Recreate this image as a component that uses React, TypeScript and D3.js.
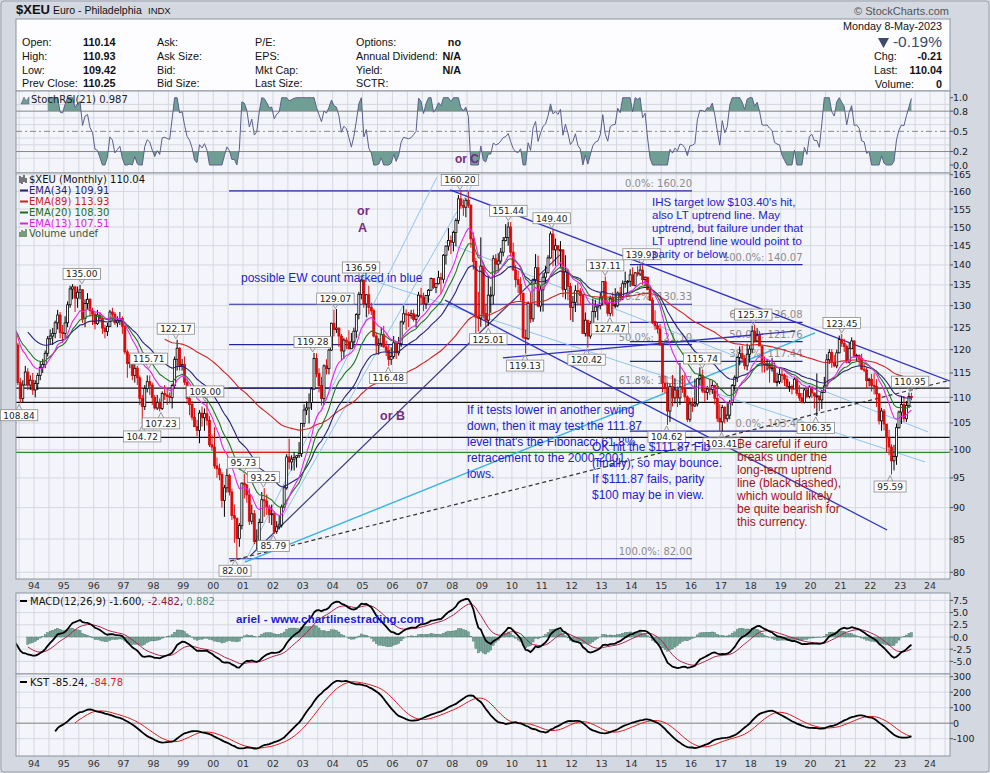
import React from 'react';
import * as d3 from 'd3';

// monthly $XEU bars, Jan 1991 .. May 2023 (open = previous close)
const START_YEAR = 1991;
const closes: number[] = [
  /* 1991 */ 137.0, 130.5, 121.5, 120.0, 117.0, 115.2, 118.0, 119.3, 124.0, 124.2, 130.0, 134.0,
  /* 1992 */ 127.0, 125.0, 124.0, 126.0, 128.0, 134.0, 139.0, 142.0, 137.0, 128.0, 124.0, 121.0,
  /* 1993 */ 120.0, 118.0, 120.0, 124.0, 121.0, 113.0, 109.8, 112.5, 115.2, 112.5, 113.5, 111.5,
  /* 1994 */ 112.8, 114.5, 116.2, 116.8, 119.2, 122.4, 123.0, 123.6, 126.0, 127.8, 123.8, 123.6,
  /* 1995 */ 126.0, 130.2, 134.0, 134.5, 131.8, 133.2, 133.8, 127.0, 130.5, 131.5, 128.8, 128.0,
  /* 1996 */ 125.8, 127.8, 126.9, 124.8, 124.0, 125.2, 128.5, 128.0, 126.0, 126.5, 127.0, 125.2,
  /* 1997 */ 119.5, 117.0, 117.2, 114.5, 116.0, 114.0, 109.8, 108.2, 111.8, 113.2, 112.5, 110.0,
  /* 1998 */ 107.9, 109.0, 107.8, 110.8, 110.5, 110.2, 110.0, 112.4, 117.9, 120.3, 116.5, 116.8,
  /* 1999 */ 113.1, 109.8, 108.6, 106.1, 104.3, 103.6, 106.9, 106.0, 106.8, 105.5, 100.9, 100.5,
  /* 2000 */ 97.1, 96.6, 95.6, 91.2, 93.3, 95.4, 92.6, 88.7, 88.3, 85.1, 87.1, 94.1,
  /* 2001 */ 93.8, 92.1, 87.8, 89.0, 84.6, 84.8, 87.6, 91.3, 91.1, 90.1, 88.9, 89.0,
  /* 2002 */ 86.2, 86.9, 87.2, 90.1, 93.3, 98.7, 97.8, 98.3, 98.6, 98.9, 99.3, 104.9,
  /* 2003 */ 107.5, 107.9, 109.0, 111.7, 118.1, 114.9, 112.4, 109.8, 116.5, 115.9, 119.9, 125.9,
  /* 2004 */ 124.5, 124.8, 123.0, 119.7, 122.1, 121.7, 120.2, 121.7, 124.1, 127.9, 132.7, 136.2,
  /* 2005 */ 130.4, 132.6, 129.6, 128.8, 123.0, 121.0, 121.3, 123.3, 120.6, 119.8, 117.9, 118.5,
  /* 2006 */ 121.5, 119.3, 121.3, 126.2, 128.1, 127.9, 127.7, 128.1, 126.8, 127.6, 132.5, 132.0,
  /* 2007 */ 130.4, 132.4, 133.7, 136.6, 134.4, 135.3, 136.8, 136.4, 142.5, 144.9, 146.4, 145.9,
  /* 2008 */ 148.5, 151.8, 157.9, 156.0, 155.5, 157.5, 156.1, 146.8, 140.9, 127.3, 127.1, 139.7,
  /* 2009 */ 128.1, 126.6, 132.5, 132.5, 141.6, 140.2, 141.0, 143.3, 146.4, 147.2, 150.0, 143.3,
  /* 2010 */ 138.7, 136.3, 135.1, 133.0, 122.7, 122.4, 130.5, 126.9, 136.3, 139.3, 129.9, 133.8,
  /* 2011 */ 136.9, 138.0, 141.8, 148.1, 143.9, 145.0, 143.9, 143.9, 133.9, 138.3, 134.6, 129.6,
  /* 2012 */ 130.8, 133.6, 133.5, 132.4, 123.6, 126.6, 123.0, 125.8, 128.6, 129.7, 130.0, 131.9,
  /* 2013 */ 135.8, 130.6, 128.2, 131.7, 130.0, 130.1, 133.0, 132.2, 135.3, 135.8, 135.9, 137.5,
  /* 2014 */ 134.9, 138.0, 137.7, 138.7, 136.3, 136.9, 133.9, 131.3, 126.3, 125.3, 124.6, 121.0,
  /* 2015 */ 112.9, 111.9, 107.3, 112.2, 109.9, 111.5, 109.9, 112.1, 111.7, 110.1, 105.7, 108.7,
  /* 2016 */ 108.3, 108.7, 113.8, 114.5, 111.3, 111.0, 111.7, 111.6, 112.4, 109.8, 105.9, 105.2,
  /* 2017 */ 108.0, 105.8, 106.5, 109.0, 112.4, 114.1, 118.3, 119.1, 118.1, 116.5, 119.0, 120.1,
  /* 2018 */ 124.1, 121.9, 123.2, 120.8, 116.9, 116.8, 116.9, 116.0, 116.1, 113.1, 113.2, 114.7,
  /* 2019 */ 114.5, 113.7, 112.2, 112.2, 111.7, 113.7, 110.8, 109.9, 109.0, 111.5, 110.2, 112.1,
  /* 2020 */ 110.9, 110.3, 110.3, 109.5, 111.0, 112.3, 117.8, 119.4, 117.2, 116.5, 119.3, 122.2,
  /* 2021 */ 121.4, 120.7, 117.3, 120.2, 121.9, 118.6, 118.7, 118.1, 115.8, 115.6, 113.4, 113.7,
  /* 2022 */ 112.4, 112.2, 110.7, 105.4, 107.3, 104.8, 102.2, 100.5, 98.0, 98.8, 104.1, 107.1,
  /* 2023 */ 108.6, 105.8, 108.4, 110.2, 110.04,
];
const highs: number[] = [
  /* 1991 */ 139, 138, 131, 122.5, 121, 118, 119, 121, 125, 126, 131, 135,
  /* 1992 */ 135, 129, 127, 127, 129, 134.5, 140, 145, 146, 138, 129, 125,
  /* 1993 */ 122, 121, 121, 125, 124.5, 121.5, 114, 113.5, 116.5, 116, 114.5, 115,
  /* 1994 */ 113.5, 115, 117.5, 118, 119.8, 123, 124.5, 124.8, 126.5, 129, 128.5, 125.5,
  /* 1995 */ 127.5, 131, 134.8, 135.2, 134.8, 134.6, 135.0, 134, 131.5, 133, 131.8, 129.5,
  /* 1996 */ 128.5, 129, 128.5, 127.5, 125.5, 126, 129, 129.5, 128.5, 127.5, 128.5, 127.5,
  /* 1997 */ 125.5, 120, 119, 117.5, 117.5, 116.5, 114.5, 110.5, 112.5, 114.5, 114.5, 113,
  /* 1998 */ 110.5, 110.5, 109.8, 111.2, 112.5, 111.5, 111, 112.8, 118.5, 122.17, 120.5, 118,
  /* 1999 */ 118.5, 113.8, 110.5, 109.3, 107.9, 105.6, 107.5, 108.2, 107.8, 109.0, 106.3, 102.8,
  /* 2000 */ 104.2, 98.6, 97.5, 96.0, 93.8, 96.6, 95.7, 93.2, 90.5, 87.9, 87.5, 94.2,
  /* 2001 */ 95.73, 94.0, 93.2, 90.5, 89.6, 86.5, 88.2, 92.6, 93.25, 92.2, 90.5, 90.5,
  /* 2002 */ 89.4, 87.8, 88.7, 90.5, 93.8, 99.2, 102.0, 99.0, 99.6, 99.0, 101.4, 105.0,
  /* 2003 */ 108.6, 109.2, 110.8, 112.1, 119.28, 119.2, 116.0, 114.2, 116.8, 117.9, 120.2, 126.0,
  /* 2004 */ 129.07, 129.2, 124.9, 123.5, 122.6, 122.7, 124.3, 123.7, 124.9, 128.2, 133.3, 136.59,
  /* 2005 */ 136.3, 132.8, 134.8, 130.7, 129.3, 123.7, 122.5, 125.0, 125.3, 122.0, 121.0, 120.5,
  /* 2006 */ 123.0, 121.5, 122.8, 126.5, 130.0, 129.1, 128.5, 129.0, 129.1, 128.0, 133.3, 134.3,
  /* 2007 */ 133.1, 132.5, 134.0, 136.8, 136.2, 135.4, 138.5, 138.0, 142.8, 145.0, 149.7, 147.7,
  /* 2008 */ 149.0, 152.4, 159.0, 160.2, 157.7, 158.1, 160.1, 156.3, 148.5, 141.8, 133.3, 147.2,
  /* 2009 */ 140.6, 130.2, 137.4, 134.6, 142.5, 142.8, 143.0, 144.4, 147.3, 150.8, 151.44, 151.4,
  /* 2010 */ 145.8, 140.0, 138.5, 136.9, 133.0, 124.5, 131.0, 133.3, 136.6, 142.8, 142.4, 134.7,
  /* 2011 */ 138.0, 139.8, 142.5, 148.8, 149.40, 146.9, 145.0, 146.2, 144.0, 142.5, 139.0, 135.5,
  /* 2012 */ 132.3, 134.9, 135.5, 134.2, 132.8, 128.4, 124.4, 126.4, 131.7, 131.4, 130.1, 133.1,
  /* 2013 */ 135.9, 137.11, 131.3, 132.4, 133.2, 134.2, 133.4, 134.5, 136.1, 138.3, 136.2, 138.9,
  /* 2014 */ 139.4, 138.2, 139.7, 139.9, 139.93, 137.1, 137.0, 134.4, 132.0, 128.9, 126.1, 125.7,
  /* 2015 */ 121.0, 114.5, 113.0, 112.9, 114.6, 113.9, 112.2, 117.1, 114.6, 114.95, 110.4, 109.9,
  /* 2016 */ 110.0, 113.8, 113.9, 116.2, 115.74, 114.2, 112.3, 113.7, 113.3, 112.6, 112.9, 108.7,
  /* 2017 */ 108.5, 108.3, 109.1, 109.5, 112.7, 114.5, 118.5, 120.7, 120.9, 118.8, 121.3, 120.9,
  /* 2018 */ 125.37, 125.6, 124.8, 124.1, 120.0, 118.5, 117.9, 117.3, 118.2, 117.2, 115.0, 116.0,
  /* 2019 */ 115.7, 114.9, 114.5, 113.2, 112.6, 114.1, 114.1, 112.5, 110.9, 111.8, 111.8, 112.4,
  /* 2020 */ 112.0, 110.6, 114.9, 110.2, 111.5, 114.2, 119.0, 120.1, 120.1, 118.8, 120.0, 123.1,
  /* 2021 */ 123.45, 122.4, 121.1, 121.5, 122.7, 122.1, 119.1, 119.0, 119.1, 117.0, 116.1, 114.0,
  /* 2022 */ 114.8, 114.95, 113.7, 110.8, 107.9, 107.7, 103.7, 103.7, 101.0, 100.9, 104.9, 107.4,
  /* 2023 */ 110.3, 110.3, 109.3, 110.95, 110.93,
];
const lows: number[] = [
  /* 1991 */ 134, 129, 120, 117, 115.5, 112.5, 113, 116.5, 118.5, 121, 124, 128,
  /* 1992 */ 126, 122, 122, 123, 125, 127, 133, 138, 133, 127, 122, 119,
  /* 1993 */ 117.5, 116, 116.5, 119, 119.5, 112.5, 108.84, 108.9, 112.5, 111.5, 111.5, 110.5,
  /* 1994 */ 110, 111.5, 113.5, 115, 116, 118.5, 121, 121, 122.5, 124.5, 122.5, 121.5,
  /* 1995 */ 122.5, 125, 129.5, 131.5, 128.5, 129.5, 131.5, 126, 125, 129, 127.5, 125.5,
  /* 1996 */ 124.5, 125.5, 126, 123.5, 122.5, 123, 125, 126.5, 125.5, 125, 125.5, 123.5,
  /* 1997 */ 119, 114, 116, 113.5, 113, 112.5, 108.5, 104.72, 107.5, 111, 110.5, 108.5,
  /* 1998 */ 107.6, 107.5, 107.23, 107.5, 109.5, 108.5, 108.8, 107.8, 111.8, 115.5, 115.5, 115.5,
  /* 1999 */ 112.5, 108.8, 106.5, 105.5, 104.2, 102.5, 101.2, 104.3, 103.5, 104.5, 100.5, 99.8,
  /* 2000 */ 96.6, 95.0, 94.6, 90.0, 88.5, 92.5, 92.0, 88.0, 84.4, 82.0, 83.8, 86.5,
  /* 2001 */ 91.5, 90.8, 87.2, 87.3, 84.2, 83.44, 83.6, 87.6, 88.5, 88.8, 87.5, 87.2,
  /* 2002 */ 85.79, 85.8, 86.5, 86.8, 89.9, 93.0, 96.5, 96.3, 96.3, 96.8, 98.5, 98.7,
  /* 2003 */ 104.2, 106.5, 104.9, 107.5, 111.5, 114.1, 111.0, 108.4, 108.5, 114.7, 114.7, 119.7,
  /* 2004 */ 122.9, 123.7, 120.6, 117.6, 118.0, 120.1, 120.0, 120.2, 120.4, 122.6, 126.8, 131.5,
  /* 2005 */ 129.5, 127.3, 128.0, 127.8, 122.7, 119.0, 118.9, 120.6, 120.4, 118.6, 116.48, 116.7,
  /* 2006 */ 118.0, 118.0, 118.7, 120.6, 125.6, 124.4, 125.0, 126.9, 126.3, 124.9, 127.3, 130.3,
  /* 2007 */ 128.7, 129.2, 130.7, 133.5, 134.0, 133.0, 135.1, 132.8, 135.4, 140.1, 143.7, 142.8,
  /* 2008 */ 143.5, 144.9, 150.9, 155.1, 153.1, 152.7, 155.3, 144.5, 138.8, 123.3, 124.0, 125.1,
  /* 2009 */ 127.0, 125.01, 125.3, 128.3, 130.3, 137.7, 138.1, 140.3, 142.2, 146.1, 145.0, 142.2,
  /* 2010 */ 138.6, 134.4, 133.0, 131.2, 122.3, 119.13, 122.1, 126.0, 126.2, 135.2, 129.6, 128.6,
  /* 2011 */ 128.6, 135.2, 138.0, 141.6, 139.6, 139.8, 140.3, 139.1, 132.0, 131.5, 131.3, 126.6,
  /* 2012 */ 126.2, 128.5, 130.0, 130.0, 123.5, 122.9, 120.42, 122.4, 125.7, 127.2, 126.6, 129.1,
  /* 2013 */ 130.0, 130.2, 127.5, 127.47, 127.5, 129.4, 129.6, 131.3, 131.3, 134.3, 132.9, 134.5,
  /* 2014 */ 134.8, 134.6, 137.1, 137.2, 135.0, 135.0, 133.7, 131.1, 125.7, 124.4, 123.6, 120.9,
  /* 2015 */ 111.0, 110.9, 104.62, 105.2, 108.2, 108.8, 108.1, 108.5, 110.9, 108.9, 105.2, 105.2,
  /* 2016 */ 107.1, 108.1, 108.2, 112.5, 110.9, 109.1, 109.5, 110.5, 110.7, 108.6, 105.2, 103.5,
  /* 2017 */ 103.41, 104.9, 105.2, 105.7, 108.4, 111.2, 113.1, 116.6, 117.2, 115.7, 115.5, 117.2,
  /* 2018 */ 119.2, 121.5, 122.2, 120.9, 115.1, 115.1, 115.5, 113.0, 115.3, 113.0, 112.2, 112.7,
  /* 2019 */ 112.9, 112.3, 111.8, 111.1, 110.6, 111.8, 110.3, 109.3, 108.8, 108.8, 109.8, 109.8,
  /* 2020 */ 109.9, 107.8, 106.35, 107.3, 107.7, 111.7, 112.3, 116.9, 116.1, 116.2, 116.0, 119.2,
  /* 2021 */ 120.6, 119.5, 117.0, 117.0, 120.5, 118.4, 117.5, 116.6, 115.6, 115.2, 111.9, 112.2,
  /* 2022 */ 111.2, 110.6, 108.1, 104.7, 103.5, 103.6, 99.5, 99.0, 95.59, 96.3, 97.3, 103.9,
  /* 2023 */ 104.8, 105.2, 105.2, 107.9, 109.42,
];
const FIRST_OPEN = 136.0;

const horizontalBlack = [111.87, 109.0, 102.29];
const horizontalGreen = [99.53];
const redSegment = { t1: 2000.0, t2: 2002.57, p: 99.53 };

const fibA = { t1: 2000.53, t2: 2016.03, levels: [160.2, 130.33, 121.1, 111.87, 82.0],
  names: ['0.0%: 160.20', '38.2%: 130.33', '50.0%: 121.10', '61.8%: 111.87', '100.0%: 82.00'] };
const fibB = { t1: 2013.95, t2: 2019.73, levels: [140.07, 126.08, 121.76, 117.44, 103.46],
  names: ['100.0%: 140.07', '61.8%: 126.08', '50.0%: 121.76', '38.2%: 117.44', '0.0%: 103.46'] };

// trendlines as [t1, p1, t2, p2]
const darkBlueLines = [
  [2007.93, 160.5, 2024.67, 113.3],
  [2007.76, 131.3, 2022.56, 86.4],
  [2009.70, 118.2, 2019.48, 124.1],
];
const lightBlueLines = [
  [2005.01, 136.9, 2023.83, 97.8],
  [2001.06, 81.5, 2007.49, 164.3],
  [2001.63, 82.85, 2008.86, 164.9],
  [2007.76, 145.97, 2023.93, 103.3],
];
const cyanLines = [[2001.06, 81.5, 2020.15, 123.7]];
const navyLines = [[2001.23, 82.4, 2011.61, 142.6]];
const dashedLines = [[2000.56, 81.65, 2024.67, 113.5]];

const priceLabels: [number, number, boolean][] = [
  [1993.5, 108.84, false], [1995.6, 135.0, true], [1998.75, 122.17, true], [1997.84, 115.71, true],
  [1999.73, 109.0, true], [1997.62, 104.72, false], [1998.25, 107.23, false], [2001.01, 95.73, true],
  [2001.68, 93.25, true], [2002.01, 85.79, false], [2000.73, 82.0, false], [2003.33, 119.28, true],
  [2004.09, 129.07, true], [2004.95, 136.59, true], [2005.86, 116.48, false], [2008.26, 160.2, true],
  [2009.88, 151.44, true], [2011.33, 149.4, true], [2009.21, 125.01, false], [2010.44, 119.13, false],
  [2012.5, 120.42, false], [2013.12, 137.11, true], [2013.28, 127.47, false], [2014.34, 139.93, true],
  [2015.18, 104.62, false], [2016.37, 115.74, true], [2017.02, 103.41, false], [2018.08, 125.37, true],
  [2021.04, 123.45, true], [2020.17, 106.35, false], [2023.33, 110.95, true], [2022.66, 95.59, false],
];

const yearLabels = d3.range(1994, 2025).map(y => String(y % 100).padStart(2, '0'));
const mainTicks = d3.range(80, 166, 5);
const stochTicks = [1.0, 0.8, 0.5, 0.2, 0.0];
const macdTicks = [7.5, 5.0, 2.5, 0.0, -2.5, -5.0];
const kstTicks = [300, 200, 100, 0, -100];

const ihsText = ["IHS target low $103.40's hit,", 'also LT uptrend line. May', 'uptrend, but failure under that',
  'LT uptrend line would point to', 'parity or below.'];
const swingText = ['If it tests lower in another swing', 'down, then it may test the 111.87',
  "level that's the Fibonacci 61.8%", 'retracement to the 2000-2001', 'lows.'];
const okText = ['OK hit the $111.87 Fib', '(finally), so may bounce.', 'If $111.87 fails, parity', '$100 may be in view.'];
const redText = ['Be careful if euro', 'breaks under the', 'long-term uptrend', 'line (black dashed),',
  'which would likely', 'be quite bearish for', 'this currency.'];

// ---------- indicator helpers ----------
type S = (number | null)[];
function sma(v: S, n: number): S {
  const out: S = v.map(() => null);
  for (let i = 0; i < v.length; i++) {
    let s = 0, ok = true;
    for (let j = i - n + 1; j <= i; j++) { if (j < 0 || v[j] == null) { ok = false; break; } s += v[j] as number; }
    if (ok) out[i] = s / n;
  }
  return out;
}
function ema(v: S, n: number): S {
  const out: S = v.map(() => null);
  const k = 2 / (n + 1);
  const start = v.findIndex(d => d != null);
  if (start < 0 || start + n > v.length) return out;
  let s = 0;
  for (let j = start; j < start + n; j++) s += v[j] as number;
  out[start + n - 1] = s / n;
  for (let i = start + n; i < v.length; i++) out[i] = (v[i] as number) * k + (out[i - 1] as number) * (1 - k);
  return out;
}
function rsi(c: number[], n: number): S {
  const out: S = c.map(() => null);
  let g = 0, l = 0;
  for (let i = 1; i <= n; i++) { const d = c[i] - c[i - 1]; if (d > 0) g += d; else l -= d; }
  g /= n; l /= n;
  out[n] = 100 - 100 / (1 + g / (l || 1e-9));
  for (let i = n + 1; i < c.length; i++) {
    const d = c[i] - c[i - 1];
    g = (g * (n - 1) + Math.max(d, 0)) / n;
    l = (l * (n - 1) + Math.max(-d, 0)) / n;
    out[i] = 100 - 100 / (1 + g / (l || 1e-9));
  }
  return out;
}
function stochOf(v: S, n: number): S {
  return v.map((d, i) => {
    if (d == null || i - n + 1 < 0) return null;
    const w = v.slice(i - n + 1, i + 1);
    if (w.some(e => e == null)) return null;
    const mn = d3.min(w as number[])!, mx = d3.max(w as number[])!;
    return mx === mn ? 0.5 : (d - mn) / (mx - mn);
  });
}
const roc = (c: number[], n: number): S => c.map((d, i) => (i >= n ? (d / c[i - n] - 1) * 100 : null));

const tOf = (i: number) => START_YEAR + i / 12 + 1 / 24;
const opens = closes.map((_, i) => (i === 0 ? FIRST_OPEN : closes[i - 1]));

const ema34 = ema(closes, 34), ema89 = ema(closes, 89), ema20 = ema(closes, 20), ema13 = ema(closes, 13);
const stochRsi = stochOf(rsi(closes, 21), 21);
const ema12c = ema(closes, 12), ema26c = ema(closes, 26);
const macdLine: S = ema12c.map((a, i) => {
  const b = ema26c[i];
  return a != null && b != null ? a - b : null;
});
const macdSignal = ema(macdLine, 9);
const macdHist: S = macdLine.map((m, i) => (m != null && macdSignal[i] != null ? m - (macdSignal[i] as number) : null));
const r1 = sma(roc(closes, 10), 10), r2 = sma(roc(closes, 15), 10), r3 = sma(roc(closes, 20), 10), r4 = sma(roc(closes, 30), 15);
const kst: S = closes.map((_, i) =>
  r1[i] != null && r2[i] != null && r3[i] != null && r4[i] != null
    ? (r1[i] as number) + 2 * (r2[i] as number) + 3 * (r3[i] as number) + 4 * (r4[i] as number) : null);
const kstSignal = sma(kst, 9);

// ---------- layout ----------
const L = 16, R = 950;
const P_STOCH = { top: 91, bottom: 173 };
const P_MAIN = { top: 173, bottom: 579 };
const P_MACD = { top: 593, bottom: 674 };
const P_KST = { top: 674, bottom: 756 };

const x = d3.scaleLinear().domain([1994, 2024]).range([34, 930.1]);
const yMain = d3.scaleLog().domain([80, 165]).range([572.3, 174.7]);
const yStoch = d3.scaleLinear().domain([0, 1]).range([165, 97.7]);
const yMacd = d3.scaleLinear().domain([-5, 7.5]).range([661.4, 600.4]);
const yKst = d3.scaleLinear().domain([-100, 300]).range([738.7, 676.7]);

const GRID = '#d5d8e0';
const BG = '#f4f5fa';
const AX = "'DejaVu Sans', Verdana, sans-serif";
const AR = "'Liberation Sans', Arial, sans-serif";

function seriesPath(v: S, y: (n: number) => number) {
  const pts = v.map((d, i) => [tOf(i), d] as [number, number | null]);
  return d3.line<[number, number | null]>()
    .defined(d => d[1] != null)
    .x(d => x(d[0]))
    .y(d => y(d[1] as number))(pts) || '';
}

function Panel({ top, bottom, hTicks, y }: { top: number; bottom: number; hTicks: number[]; y: (n: number) => number }) {
  const halfYears = d3.range(1993.5, 2025, 0.5).filter(t => x(t) > L && x(t) < R);
  return (
    <g>
      <rect x={L} y={top} width={R - L} height={bottom - top} fill={BG} />
      {halfYears.map(t => <line key={t} x1={x(t)} x2={x(t)} y1={top} y2={bottom} stroke={GRID} strokeWidth={1} />)}
      {hTicks.map(v => <line key={v} x1={L} x2={R} y1={y(v)} y2={y(v)} stroke={GRID} strokeWidth={1} />)}
    </g>
  );
}

function RightAxis({ ticks, y, fmt }: { ticks: number[]; y: (n: number) => number; fmt: (n: number) => string }) {
  return (
    <g fontFamily={AX} fontSize={9.5} fill="#222">
      {ticks.map(v => (
        <g key={v}>
          <line x1={R} x2={R + 3} y1={y(v)} y2={y(v)} stroke="#555" />
          <text x={R + 3} y={y(v) + 3.5}>{fmt(v)}</text>
        </g>
      ))}
    </g>
  );
}

function XLabels({ yPos }: { yPos: number }) {
  return (
    <g fontFamily={AX} fontSize={9.5} fill="#333" textAnchor="middle">
      {yearLabels.map((lab, i) => <text key={lab + i} x={x(1994 + i)} y={yPos}>{lab}</text>)}
    </g>
  );
}

function Trend({ lines, color, width, dash }: { lines: number[][]; color: string; width: number; dash?: string }) {
  return (
    <g>
      {lines.map((l, i) => (
        <line key={i} x1={x(l[0])} y1={yMain(l[1])} x2={x(l[2])} y2={yMain(l[3])}
          stroke={color} strokeWidth={width} strokeDasharray={dash} />
      ))}
    </g>
  );
}

function PriceLabel({ t, v, up }: { t: number; v: number; up: boolean }) {
  const cx = x(t);
  const ay = yMain(v);
  const text = v.toFixed(2);
  const w = text.length * 5.4 + 5;
  const cy = up ? ay - 11 : ay + 12;
  const edge = up ? cy + 5 : cy - 5;
  return (
    <g>
      <line x1={cx - 3} y1={edge} x2={cx} y2={up ? ay - 1 : ay + 1} stroke="#999" />
      <line x1={cx + 3} y1={edge} x2={cx} y2={up ? ay - 1 : ay + 1} stroke="#999" />
      <rect x={cx - w / 2} y={cy - 5.5} width={w} height={11} fill="#fff" stroke="#8a8a8a" strokeWidth={0.8} />
      <text x={cx} y={cy + 3.5} textAnchor="middle" fontFamily={AX} fontSize={9} fill="#222">{text}</text>
    </g>
  );
}

export default function App() {
  const visible = closes.map((c, i) => i).filter(i => x(tOf(i)) > L - 2 && x(tOf(i)) < R);
  const s08 = yStoch(0.8), s02 = yStoch(0.2);
  const stochArea = (base: number) => {
    const pts = stochRsi.map((d, i) => [tOf(i), d] as [number, number | null]);
    return d3.area<[number, number | null]>()
      .defined(d => d[1] != null)
      .x(d => x(d[0])).y0(base).y1(d => yStoch(d[1] as number))(pts) || '';
  };
  const lineStyle = { fill: 'none' };

  return (
    <svg width={990} height={773} style={{ position: 'absolute', left: 0, top: 0, background: '#d3d8e1' }}
      fontFamily={AR}>
      <defs>
        <clipPath id="clipMain"><rect x={L} y={P_MAIN.top} width={R - L} height={P_MAIN.bottom - P_MAIN.top} /></clipPath>
        <clipPath id="clipStoch"><rect x={L} y={P_STOCH.top} width={R - L} height={P_STOCH.bottom - P_STOCH.top} /></clipPath>
        <clipPath id="clipMacd"><rect x={L} y={P_MACD.top} width={R - L} height={P_MACD.bottom - P_MACD.top} /></clipPath>
        <clipPath id="clipKst"><rect x={L} y={P_KST.top} width={R - L} height={P_KST.bottom - P_KST.top} /></clipPath>
        <clipPath id="aboveHi"><rect x={L} y={P_STOCH.top} width={R - L} height={s08 - P_STOCH.top} /></clipPath>
        <clipPath id="belowLo"><rect x={L} y={s02} width={R - L} height={P_STOCH.bottom - s02} /></clipPath>
      </defs>
      <rect x={1} y={1} width={988} height={771} fill="#d3d8e1" stroke="#9aa1ad" rx={3} />

      {/* title + info box */}
      <text x={16} y={14} fontSize={13} fontWeight="bold" fill="#111">$XEU</text>
      <text x={53} y={14} fontSize={10.5} fill="#111">Euro - Philadelphia</text>
      <text x={148} y={14} fontSize={9.5} fill="#111">INDX</text>
      <text x={949} y={15} fontSize={11} fill="#555" textAnchor="end">© StockCharts.com</text>
      <rect x={L} y={19} width={R - L} height={72} fill="#fdfdff" stroke="#8b93a0" />
      <g fontSize={10.8} fill="#111">
        {[['Open:', '110.14'], ['High:', '110.93'], ['Low:', '109.42'], ['Prev Close:', '110.25']].map((r, i) => (
          <g key={r[0]}>
            <text x={22} y={46 + i * 13.8}>{r[0]}</text>
            <text x={83} y={46 + i * 13.8} fontWeight="bold">{r[1]}</text>
          </g>
        ))}
        {['Ask:', 'Ask Size:', 'Bid:', 'Bid Size:'].map((s, i) => <text key={s} x={157} y={46 + i * 13.8}>{s}</text>)}
        {['P/E:', 'EPS:', 'Mkt Cap:', 'Last Size:'].map((s, i) => <text key={s} x={255} y={46 + i * 13.8}>{s}</text>)}
        {['Options:', 'Annual Dividend:', 'Yield:', 'SCTR:'].map((s, i) => <text key={s} x={356} y={46 + i * 13.8}>{s}</text>)}
        {['no', 'N/A', 'N/A'].map((s, i) => <text key={i} x={461} y={46 + i * 13.8} fontWeight="bold" textAnchor="end">{s}</text>)}
        <text x={942} y={30} textAnchor="end">Monday  8-May-2023</text>
        <path d="M878,38 L889,38 L883.5,48 Z" fill="#3c4a6e" />
        <text x={942} y={47} textAnchor="end" fontSize={15.5} fill="#3c4a6e">-0.19%</text>
        <text x={874} y={60}>Chg:</text>
        <text x={942} y={60} textAnchor="end" fontWeight="bold">-0.21</text>
        <text x={874} y={74}>Last:</text>
        <text x={942} y={74} textAnchor="end" fontWeight="bold">110.04</text>
        <text x={875} y={88}>Volume:</text>
        <text x={942} y={88} textAnchor="end" fontWeight="bold">0</text>
      </g>

      {/* StochRSI */}
      <Panel top={P_STOCH.top} bottom={P_STOCH.bottom} hTicks={[0.1, 0.3, 0.4, 0.6, 0.7, 0.9]} y={yStoch} />
      <g clipPath="url(#clipStoch)">
        <path d={stochArea(s08)} fill="#6f9f94" clipPath="url(#aboveHi)" />
        <path d={stochArea(s02)} fill="#6f9f94" clipPath="url(#belowLo)" />
        <line x1={L} x2={R} y1={s08} y2={s08} stroke="#888" />
        <line x1={L} x2={R} y1={s02} y2={s02} stroke="#888" />
        <line x1={L} x2={R} y1={yStoch(0.5)} y2={yStoch(0.5)} stroke="#888" strokeDasharray="6,3,2,3" />
        <path d={seriesPath(stochRsi, yStoch)} {...lineStyle} stroke="#5c5f8c" strokeWidth={1} />
      </g>
      <rect x={L} y={P_STOCH.top} width={R - L} height={P_STOCH.bottom - P_STOCH.top} fill="none" stroke="#8b93a0" />
      <path d="M21,104 L24,97 L26,101 L29,97 L29,104 Z" fill="#6f9f94" stroke="#5c5f8c" strokeWidth={0.6} />
      <text x={31} y={103} fontFamily={AX} fontSize={10} fill="#222">StochRSI(21) 0.987</text>
      <text x={455} y={163} fontSize={12} fontWeight="bold" fill="#7a2a82">or C</text>
      <RightAxis ticks={stochTicks} y={yStoch} fmt={v => v.toFixed(1)} />

      {/* main price panel */}
      <Panel top={P_MAIN.top} bottom={P_MAIN.bottom} hTicks={mainTicks} y={yMain} />
      <g clipPath="url(#clipMain)">
        {horizontalBlack.map(p => <line key={p} x1={L} x2={R} y1={yMain(p)} y2={yMain(p)} stroke="#111" strokeWidth={1.2} />)}
        {horizontalGreen.map(p => <line key={p} x1={L} x2={R} y1={yMain(p)} y2={yMain(p)} stroke="#2c8a2c" strokeWidth={1.2} />)}
        <line x1={x(redSegment.t1)} x2={x(redSegment.t2)} y1={yMain(redSegment.p)} y2={yMain(redSegment.p)} stroke="#e02020" strokeWidth={1.2} />
        {[fibA, fibB].map((f, k) => (
          <g key={k}>
            {f.levels.map((p, i) => (
              <g key={i}>
                <line x1={x(f.t1)} x2={x(f.t2)} y1={yMain(p)} y2={yMain(p)} stroke="#25259a" strokeWidth={1.2} />
                <text x={x(f.t2)} y={yMain(p) - 4} textAnchor="end" fontFamily={AX} fontSize={10} fill="#8c8c8c">{f.names[i]}</text>
              </g>
            ))}
          </g>
        ))}
        <Trend lines={lightBlueLines} color="#8fc4ee" width={1} />
        <Trend lines={cyanLines} color="#35b4e8" width={1.4} />
        <Trend lines={navyLines} color="#3b3b80" width={1.2} />
        <Trend lines={darkBlueLines} color="#3232c4" width={1.3} />
        <Trend lines={dashedLines} color="#333" width={1.2} dash="4,3" />

        {/* candles */}
        {visible.map(i => {
          const cx = x(tOf(i));
          const o = opens[i], c = closes[i];
          const up = c >= o;
          const col = up ? '#000' : '#dd0a0a';
          const yt = yMain(Math.max(o, c)), yb = yMain(Math.min(o, c));
          return (
            <g key={i}>
              <line x1={cx} x2={cx} y1={yMain(highs[i])} y2={yMain(lows[i])} stroke={col} strokeWidth={1} />
              <rect x={cx - 1} y={yt} width={2} height={Math.max(1, yb - yt)} fill={up ? '#fff' : col} stroke={col} strokeWidth={0.8} />
            </g>
          );
        })}
        <path d={seriesPath(ema89, yMain)} {...lineStyle} stroke="#d42020" strokeWidth={1.1} />
        <path d={seriesPath(ema34, yMain)} {...lineStyle} stroke="#23237a" strokeWidth={1.1} />
        <path d={seriesPath(ema20, yMain)} {...lineStyle} stroke="#1f7a1f" strokeWidth={1.1} />
        <path d={seriesPath(ema13, yMain)} {...lineStyle} stroke="#ee22ee" strokeWidth={1.1} />
      </g>
      <rect x={L} y={P_MAIN.top} width={R - L} height={P_MAIN.bottom - P_MAIN.top} fill="none" stroke="#8b93a0" />
      {priceLabels.map(([t, v, up], i) => <PriceLabel key={i} t={t} v={v} up={up} />)}

      {/* legend */}
      <g fontFamily={AX} fontSize={10}>
        <path d="M20,183 L20,176 M22,184 L22,177 M24,182 L24,175 M26,183 L26,178" stroke="#222" strokeWidth={1.2} />
        <text x={29} y={183} fill="#111">$XEU (Monthly) 110.04</text>
        {[['EMA(34) 109.91', '#23237a'], ['EMA(89) 113.93', '#cc1f1f'], ['EMA(20) 108.30', '#1f6e1f'], ['EMA(13) 107.51', '#dd22dd']].map((e, i) => (
          <g key={e[0]}>
            <line x1={20} x2={28} y1={190.5 + i * 11} y2={190.5 + i * 11} stroke={e[1]} strokeWidth={2} />
            <text x={29} y={194 + i * 11} fill={e[1]}>{e[0]}</text>
          </g>
        ))}
        <path d="M20,237 L20,232 M22,237 L22,230 M24,237 L24,231 M26,237 L26,229" stroke="#3a6a3a" strokeWidth={1.3} />
        <text x={29} y={237} fill="#3a5a3a">Volume undef</text>
      </g>

      {/* annotation texts */}
      <g fontSize={12} fill="#2222cc">
        <text x={241} y={282}>possible EW count marked in blue</text>
        {ihsText.map((s, i) => <text key={s} x={652} y={206 + i * 13} fontSize={11.5}>{s}</text>)}
        {swingText.map((s, i) => <text key={s} x={467} y={414 + i * 16}>{s}</text>)}
        {okText.map((s, i) => <text key={s} x={592} y={451 + i * 16}>{s}</text>)}
      </g>
      <g fontSize={12} fill="#a31515">
        {redText.map((s, i) => <text key={s} x={737} y={448 + i * 13}>{s}</text>)}
      </g>
      <g fontSize={12.5} fontWeight="bold" fill="#7a2a82">
        <text x={357} y={215}>or</text>
        <text x={358} y={232}>A</text>
        <text x={380} y={420}>or B</text>
      </g>
      <RightAxis ticks={mainTicks} y={yMain} fmt={v => String(v)} />
      <XLabels yPos={589} />

      {/* MACD */}
      <Panel top={P_MACD.top} bottom={P_MACD.bottom} hTicks={macdTicks} y={yMacd} />
      <g clipPath="url(#clipMacd)">
        {macdHist.map((h, i) => h == null ? null : (
          <rect key={i} x={x(tOf(i)) - 1} width={2}
            y={Math.min(yMacd(0), yMacd(h))} height={Math.abs(yMacd(h) - yMacd(0))}
            fill="#79a79a" stroke="#3f6f62" strokeWidth={0.4} />
        ))}
        <path d={seriesPath(macdSignal, yMacd)} {...lineStyle} stroke="#b0204a" strokeWidth={1} />
        <path d={seriesPath(macdLine, yMacd)} {...lineStyle} stroke="#000" strokeWidth={1.8} />
      </g>
      <rect x={L} y={P_MACD.top} width={R - L} height={P_MACD.bottom - P_MACD.top} fill="none" stroke="#8b93a0" />
      <g fontFamily={AX} fontSize={10}>
        <line x1={20} x2={27} y1={601} y2={601} stroke="#000" strokeWidth={2} />
        <text x={30} y={604.5} fill="#111">MACD(12,26,9) -1.600, <tspan fill="#8a1a3a">-2.482</tspan>, <tspan fill="#4f8f80">0.882</tspan></text>
      </g>
      <text x={236} y={623} fontSize={11.5} fontWeight="bold" fill="#1a1ae0" textLength={188}>ariel - www.chartlinestrading.com</text>
      <RightAxis ticks={macdTicks} y={yMacd} fmt={v => v.toFixed(1)} />

      {/* KST */}
      <Panel top={P_KST.top} bottom={P_KST.bottom} hTicks={kstTicks} y={yKst} />
      <g clipPath="url(#clipKst)">
        <line x1={L} x2={R} y1={yKst(0)} y2={yKst(0)} stroke="#888" />
        <path d={seriesPath(kstSignal, yKst)} {...lineStyle} stroke="#e01a1a" strokeWidth={1} />
        <path d={seriesPath(kst, yKst)} {...lineStyle} stroke="#000" strokeWidth={1.8} />
      </g>
      <rect x={L} y={P_KST.top} width={R - L} height={P_KST.bottom - P_KST.top} fill="none" stroke="#8b93a0" />
      <g fontFamily={AX} fontSize={10}>
        <line x1={20} x2={27} y1={682} y2={682} stroke="#000" strokeWidth={2} />
        <text x={30} y={685.5} fill="#111">KST -85.24, <tspan fill="#e01a1a">-84.78</tspan></text>
      </g>
      <RightAxis ticks={kstTicks} y={yKst} fmt={v => String(v)} />
      <XLabels yPos={767} />
    </svg>
  );
}
